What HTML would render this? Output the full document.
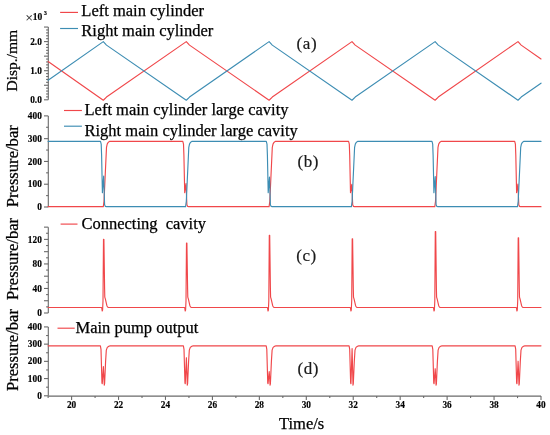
<!DOCTYPE html>
<html><head><meta charset="utf-8"><title>Plot</title><style>
html,body{margin:0;padding:0;background:#fff;}
body{width:550px;height:435px;overflow:hidden;}
svg{display:block;}
text{font-family:"Liberation Serif","Times New Roman",serif;fill:#000;}
.tl{font-size:9.3px;font-weight:bold;stroke:#000;stroke-width:0.15px;}
.lg{font-size:16.5px;fill:#000;stroke:#000;stroke-width:0.25px;}
.pl{font-size:17px;fill:#1a1a1a;letter-spacing:0.6px;stroke:#1a1a1a;stroke-width:0.2px;}
.yl{font-size:16.6px;fill:#000;stroke:#000;stroke-width:0.25px;}
.xl{font-size:16.5px;fill:#000;stroke:#000;stroke-width:0.25px;}
</style></head>
<body>
<svg width="550" height="435" viewBox="0 0 550 435">
<rect width="550" height="435" fill="#fff"/>
<line x1="48.3" y1="27.05" x2="48.3" y2="99.8" stroke="#6a6a6a" stroke-width="1.1"/>
<line x1="44" y1="99.8" x2="48.3" y2="99.8" stroke="#6a6a6a" stroke-width="1.1"/>
<line x1="44" y1="85.25" x2="48.3" y2="85.25" stroke="#6a6a6a" stroke-width="1.1"/>
<line x1="44" y1="70.7" x2="48.3" y2="70.7" stroke="#6a6a6a" stroke-width="1.1"/>
<line x1="44" y1="56.15" x2="48.3" y2="56.15" stroke="#6a6a6a" stroke-width="1.1"/>
<line x1="44" y1="41.6" x2="48.3" y2="41.6" stroke="#6a6a6a" stroke-width="1.1"/>
<line x1="44" y1="27.05" x2="48.3" y2="27.05" stroke="#6a6a6a" stroke-width="1.1"/>
<line x1="46.1" y1="96.89" x2="48.3" y2="96.89" stroke="#6a6a6a" stroke-width="1.1"/>
<line x1="46.1" y1="93.98" x2="48.3" y2="93.98" stroke="#6a6a6a" stroke-width="1.1"/>
<line x1="46.1" y1="91.07" x2="48.3" y2="91.07" stroke="#6a6a6a" stroke-width="1.1"/>
<line x1="46.1" y1="88.16" x2="48.3" y2="88.16" stroke="#6a6a6a" stroke-width="1.1"/>
<line x1="46.1" y1="82.34" x2="48.3" y2="82.34" stroke="#6a6a6a" stroke-width="1.1"/>
<line x1="46.1" y1="79.43" x2="48.3" y2="79.43" stroke="#6a6a6a" stroke-width="1.1"/>
<line x1="46.1" y1="76.52" x2="48.3" y2="76.52" stroke="#6a6a6a" stroke-width="1.1"/>
<line x1="46.1" y1="73.61" x2="48.3" y2="73.61" stroke="#6a6a6a" stroke-width="1.1"/>
<line x1="46.1" y1="67.79" x2="48.3" y2="67.79" stroke="#6a6a6a" stroke-width="1.1"/>
<line x1="46.1" y1="64.88" x2="48.3" y2="64.88" stroke="#6a6a6a" stroke-width="1.1"/>
<line x1="46.1" y1="61.97" x2="48.3" y2="61.97" stroke="#6a6a6a" stroke-width="1.1"/>
<line x1="46.1" y1="59.06" x2="48.3" y2="59.06" stroke="#6a6a6a" stroke-width="1.1"/>
<line x1="46.1" y1="53.24" x2="48.3" y2="53.24" stroke="#6a6a6a" stroke-width="1.1"/>
<line x1="46.1" y1="50.33" x2="48.3" y2="50.33" stroke="#6a6a6a" stroke-width="1.1"/>
<line x1="46.1" y1="47.42" x2="48.3" y2="47.42" stroke="#6a6a6a" stroke-width="1.1"/>
<line x1="46.1" y1="44.51" x2="48.3" y2="44.51" stroke="#6a6a6a" stroke-width="1.1"/>
<line x1="46.1" y1="38.69" x2="48.3" y2="38.69" stroke="#6a6a6a" stroke-width="1.1"/>
<line x1="46.1" y1="35.78" x2="48.3" y2="35.78" stroke="#6a6a6a" stroke-width="1.1"/>
<line x1="46.1" y1="32.87" x2="48.3" y2="32.87" stroke="#6a6a6a" stroke-width="1.1"/>
<line x1="46.1" y1="29.96" x2="48.3" y2="29.96" stroke="#6a6a6a" stroke-width="1.1"/>
<text x="41.8" y="102.9" class="tl" text-anchor="end">0.0</text>
<text x="41.8" y="73.8" class="tl" text-anchor="end">1.0</text>
<text x="41.8" y="44.7" class="tl" text-anchor="end">2.0</text>
<line x1="48.3" y1="115.88" x2="48.3" y2="207" stroke="#6a6a6a" stroke-width="1.1"/>
<line x1="44" y1="207" x2="48.3" y2="207" stroke="#6a6a6a" stroke-width="1.1"/>
<line x1="44" y1="184.22" x2="48.3" y2="184.22" stroke="#6a6a6a" stroke-width="1.1"/>
<line x1="44" y1="161.44" x2="48.3" y2="161.44" stroke="#6a6a6a" stroke-width="1.1"/>
<line x1="44" y1="138.66" x2="48.3" y2="138.66" stroke="#6a6a6a" stroke-width="1.1"/>
<line x1="44" y1="115.88" x2="48.3" y2="115.88" stroke="#6a6a6a" stroke-width="1.1"/>
<line x1="46.1" y1="195.61" x2="48.3" y2="195.61" stroke="#6a6a6a" stroke-width="1.1"/>
<line x1="46.1" y1="172.83" x2="48.3" y2="172.83" stroke="#6a6a6a" stroke-width="1.1"/>
<line x1="46.1" y1="150.05" x2="48.3" y2="150.05" stroke="#6a6a6a" stroke-width="1.1"/>
<line x1="46.1" y1="127.27" x2="48.3" y2="127.27" stroke="#6a6a6a" stroke-width="1.1"/>
<text x="41.8" y="210.1" class="tl" text-anchor="end">0</text>
<text x="41.8" y="187.32" class="tl" text-anchor="end">100</text>
<text x="41.8" y="164.54" class="tl" text-anchor="end">200</text>
<text x="41.8" y="141.76" class="tl" text-anchor="end">300</text>
<text x="41.8" y="118.98" class="tl" text-anchor="end">400</text>
<line x1="48.3" y1="227.14" x2="48.3" y2="313" stroke="#6a6a6a" stroke-width="1.1"/>
<line x1="44" y1="313" x2="48.3" y2="313" stroke="#6a6a6a" stroke-width="1.1"/>
<line x1="44" y1="300.73" x2="48.3" y2="300.73" stroke="#6a6a6a" stroke-width="1.1"/>
<line x1="44" y1="288.47" x2="48.3" y2="288.47" stroke="#6a6a6a" stroke-width="1.1"/>
<line x1="44" y1="276.2" x2="48.3" y2="276.2" stroke="#6a6a6a" stroke-width="1.1"/>
<line x1="44" y1="263.94" x2="48.3" y2="263.94" stroke="#6a6a6a" stroke-width="1.1"/>
<line x1="44" y1="251.67" x2="48.3" y2="251.67" stroke="#6a6a6a" stroke-width="1.1"/>
<line x1="44" y1="239.4" x2="48.3" y2="239.4" stroke="#6a6a6a" stroke-width="1.1"/>
<line x1="44" y1="227.14" x2="48.3" y2="227.14" stroke="#6a6a6a" stroke-width="1.1"/>
<line x1="46.1" y1="306.87" x2="48.3" y2="306.87" stroke="#6a6a6a" stroke-width="1.1"/>
<line x1="46.1" y1="294.6" x2="48.3" y2="294.6" stroke="#6a6a6a" stroke-width="1.1"/>
<line x1="46.1" y1="282.33" x2="48.3" y2="282.33" stroke="#6a6a6a" stroke-width="1.1"/>
<line x1="46.1" y1="270.07" x2="48.3" y2="270.07" stroke="#6a6a6a" stroke-width="1.1"/>
<line x1="46.1" y1="257.8" x2="48.3" y2="257.8" stroke="#6a6a6a" stroke-width="1.1"/>
<line x1="46.1" y1="245.54" x2="48.3" y2="245.54" stroke="#6a6a6a" stroke-width="1.1"/>
<line x1="46.1" y1="233.27" x2="48.3" y2="233.27" stroke="#6a6a6a" stroke-width="1.1"/>
<text x="41.8" y="316.1" class="tl" text-anchor="end">0</text>
<text x="41.8" y="291.57" class="tl" text-anchor="end">40</text>
<text x="41.8" y="267.04" class="tl" text-anchor="end">80</text>
<text x="41.8" y="242.5" class="tl" text-anchor="end">120</text>
<line x1="48.3" y1="326.92" x2="48.3" y2="395.8" stroke="#6a6a6a" stroke-width="1.1"/>
<line x1="44" y1="395.8" x2="48.3" y2="395.8" stroke="#6a6a6a" stroke-width="1.1"/>
<line x1="44" y1="378.58" x2="48.3" y2="378.58" stroke="#6a6a6a" stroke-width="1.1"/>
<line x1="44" y1="361.36" x2="48.3" y2="361.36" stroke="#6a6a6a" stroke-width="1.1"/>
<line x1="44" y1="344.14" x2="48.3" y2="344.14" stroke="#6a6a6a" stroke-width="1.1"/>
<line x1="44" y1="326.92" x2="48.3" y2="326.92" stroke="#6a6a6a" stroke-width="1.1"/>
<line x1="46.1" y1="387.19" x2="48.3" y2="387.19" stroke="#6a6a6a" stroke-width="1.1"/>
<line x1="46.1" y1="369.97" x2="48.3" y2="369.97" stroke="#6a6a6a" stroke-width="1.1"/>
<line x1="46.1" y1="352.75" x2="48.3" y2="352.75" stroke="#6a6a6a" stroke-width="1.1"/>
<line x1="46.1" y1="335.53" x2="48.3" y2="335.53" stroke="#6a6a6a" stroke-width="1.1"/>
<text x="41.8" y="398.9" class="tl" text-anchor="end">0</text>
<text x="41.8" y="381.68" class="tl" text-anchor="end">100</text>
<text x="41.8" y="364.46" class="tl" text-anchor="end">200</text>
<text x="41.8" y="347.24" class="tl" text-anchor="end">300</text>
<text x="41.8" y="330.02" class="tl" text-anchor="end">400</text>
<line x1="48.3" y1="396.1" x2="541" y2="396.1" stroke="#6a6a6a" stroke-width="1.1"/>
<line x1="48.13" y1="396.1" x2="48.13" y2="398.1" stroke="#6a6a6a" stroke-width="1.1"/>
<line x1="71.6" y1="396.1" x2="71.6" y2="399.9" stroke="#6a6a6a" stroke-width="1.1"/>
<text x="71.6" y="408" class="tl" text-anchor="middle">20</text>
<line x1="95.07" y1="396.1" x2="95.07" y2="398.1" stroke="#6a6a6a" stroke-width="1.1"/>
<line x1="118.54" y1="396.1" x2="118.54" y2="399.9" stroke="#6a6a6a" stroke-width="1.1"/>
<text x="118.54" y="408" class="tl" text-anchor="middle">22</text>
<line x1="142.01" y1="396.1" x2="142.01" y2="398.1" stroke="#6a6a6a" stroke-width="1.1"/>
<line x1="165.48" y1="396.1" x2="165.48" y2="399.9" stroke="#6a6a6a" stroke-width="1.1"/>
<text x="165.48" y="408" class="tl" text-anchor="middle">24</text>
<line x1="188.95" y1="396.1" x2="188.95" y2="398.1" stroke="#6a6a6a" stroke-width="1.1"/>
<line x1="212.42" y1="396.1" x2="212.42" y2="399.9" stroke="#6a6a6a" stroke-width="1.1"/>
<text x="212.42" y="408" class="tl" text-anchor="middle">26</text>
<line x1="235.89" y1="396.1" x2="235.89" y2="398.1" stroke="#6a6a6a" stroke-width="1.1"/>
<line x1="259.36" y1="396.1" x2="259.36" y2="399.9" stroke="#6a6a6a" stroke-width="1.1"/>
<text x="259.36" y="408" class="tl" text-anchor="middle">28</text>
<line x1="282.83" y1="396.1" x2="282.83" y2="398.1" stroke="#6a6a6a" stroke-width="1.1"/>
<line x1="306.3" y1="396.1" x2="306.3" y2="399.9" stroke="#6a6a6a" stroke-width="1.1"/>
<text x="306.3" y="408" class="tl" text-anchor="middle">30</text>
<line x1="329.77" y1="396.1" x2="329.77" y2="398.1" stroke="#6a6a6a" stroke-width="1.1"/>
<line x1="353.24" y1="396.1" x2="353.24" y2="399.9" stroke="#6a6a6a" stroke-width="1.1"/>
<text x="353.24" y="408" class="tl" text-anchor="middle">32</text>
<line x1="376.71" y1="396.1" x2="376.71" y2="398.1" stroke="#6a6a6a" stroke-width="1.1"/>
<line x1="400.18" y1="396.1" x2="400.18" y2="399.9" stroke="#6a6a6a" stroke-width="1.1"/>
<text x="400.18" y="408" class="tl" text-anchor="middle">34</text>
<line x1="423.65" y1="396.1" x2="423.65" y2="398.1" stroke="#6a6a6a" stroke-width="1.1"/>
<line x1="447.12" y1="396.1" x2="447.12" y2="399.9" stroke="#6a6a6a" stroke-width="1.1"/>
<text x="447.12" y="408" class="tl" text-anchor="middle">36</text>
<line x1="470.59" y1="396.1" x2="470.59" y2="398.1" stroke="#6a6a6a" stroke-width="1.1"/>
<line x1="494.06" y1="396.1" x2="494.06" y2="399.9" stroke="#6a6a6a" stroke-width="1.1"/>
<text x="494.06" y="408" class="tl" text-anchor="middle">38</text>
<line x1="517.53" y1="396.1" x2="517.53" y2="398.1" stroke="#6a6a6a" stroke-width="1.1"/>
<line x1="541" y1="396.1" x2="541" y2="399.9" stroke="#6a6a6a" stroke-width="1.1"/>
<text x="541" y="408" class="tl" text-anchor="middle">40</text>
<text x="25.5" y="21.8" style="font-size:13px;stroke:#222;stroke-width:0.1px;fill:#222">×</text>
<text x="32.7" y="19.5" class="tl" style="font-size:9.5px">10</text>
<text x="43.7" y="14.6" class="tl" style="font-size:6.3px">3</text>
<g fill="none" stroke-width="1.15" stroke-linejoin="round" stroke-linecap="round">
<path d="M48.13,61.55 L103.3,100.24 L106.5,97.04 L186.3,41.6 L189.5,45.1 L269.1,100.24 L272.3,97.04 L352,41.6 L355.2,45.1 L435.1,100.24 L438.3,97.04 L518,41.6 L521.2,45.1 L541,58.96" stroke="#f0474a"/>
<path d="M48.13,80.29 L103.3,41.6 L106.5,45.1 L186.3,100.24 L189.5,97.04 L269.1,41.6 L272.3,45.1 L352,100.24 L355.2,97.04 L435.1,41.6 L438.3,45.1 L518,100.24 L521.2,97.04 L541,83.18" stroke="#3d8db3"/>
<path d="M48.13,206.66 L103.3,206.66 L104,201.31 L106.5,147.32 L107.2,144.13 L108.1,142.53 L109.5,141.39 L182.8,141.39 L183.5,144.13 L183.9,155.06 L184.7,192.65 L186,183.54 L186.9,204.72 L187.7,206.43 L188.7,206.66 L269.1,206.66 L269.8,201.31 L272.3,147.32 L273,144.13 L273.9,142.53 L275.3,141.39 L348.6,141.39 L349.3,144.13 L349.7,155.06 L350.5,192.65 L351.8,184.22 L352.7,204.72 L353.5,206.43 L354.5,206.66 L434.8,206.66 L435.5,201.31 L438,147.32 L438.7,144.13 L439.6,142.53 L441,141.39 L514.7,141.39 L515.4,144.13 L515.8,155.06 L516.6,192.65 L517.9,183.99 L518.8,204.72 L519.6,206.43 L520.6,206.66 L541,206.66" stroke="#f0474a"/>
<path d="M48.13,141.39 L100.5,141.39 L101.2,144.13 L101.6,155.06 L102.4,192.65 L103.7,176.02 L104.6,204.72 L105.4,206.43 L106.4,206.66 L185.6,206.66 L186.3,201.31 L188.8,147.32 L189.5,144.13 L190.4,142.53 L191.8,141.39 L266.3,141.39 L267,144.13 L267.4,155.06 L268.2,192.65 L269.5,177.16 L270.4,204.72 L271.2,206.43 L272.2,206.66 L351.4,206.66 L352.1,201.31 L354.6,147.32 L355.3,144.13 L356.2,142.53 L357.6,141.39 L432,141.39 L432.7,144.13 L433.1,155.06 L433.9,192.65 L435.2,176.47 L436.1,204.72 L436.9,206.43 L437.9,206.66 L517.5,206.66 L518.2,201.31 L520.7,147.32 L521.4,144.13 L522.3,142.53 L523.7,141.39 L541,141.39" stroke="#3d8db3"/>
<path d="M48.13,307.48 L101.3,307.48 L101.8,308.09 L102.2,310.98 L102.6,309.93 L103,300.73 L103.5,239.3 L103.9,239.3 L104.6,288.47 L104.8,297.05 L105.4,299.2 L106.2,302.57 L106.9,305.64 L107.5,306.87 L108.3,307.48 L184.3,307.48 L184.8,308.09 L185.2,310.98 L185.6,309.93 L186,300.73 L186.5,243 L186.9,243 L187.6,288.47 L187.8,297.05 L188.4,299.2 L189.2,302.57 L189.9,305.64 L190.5,306.87 L191.3,307.48 L267.1,307.48 L267.6,308.09 L268,310.98 L268.4,309.93 L268.8,300.73 L269.3,235.3 L269.7,235.3 L270.4,288.47 L270.6,297.05 L271.2,299.2 L272,302.57 L272.7,305.64 L273.3,306.87 L274.1,307.48 L350,307.48 L350.5,308.09 L350.9,310.98 L351.3,309.93 L351.7,300.73 L352.2,238.8 L352.6,238.8 L353.3,288.47 L353.5,297.05 L354.1,299.2 L354.9,302.57 L355.6,305.64 L356.2,306.87 L357,307.48 L433.1,307.48 L433.6,308.09 L434,310.98 L434.4,309.93 L434.8,300.73 L435.3,231.6 L435.7,231.6 L436.4,288.47 L436.6,297.05 L437.2,299.2 L438,302.57 L438.7,305.64 L439.3,306.87 L440.1,307.48 L516,307.48 L516.5,308.09 L516.9,310.98 L517.3,309.93 L517.7,300.73 L518.2,237.8 L518.6,237.8 L519.3,288.47 L519.5,297.05 L520.1,299.2 L520.9,302.57 L521.6,305.64 L522.2,306.87 L523,307.48 L541,307.48" stroke="#f0474a"/>
<path d="M48.13,345.86 L100.4,345.86 L101,349.31 L101.95,383.06 L102.25,383.75 L103.4,366.6 L104.3,385.12 L104.6,383.75 L105.6,361.36 L106.3,350.17 L107.3,347.41 L108.8,346.21 L110.1,345.86 L183.4,345.86 L184,349.31 L184.95,383.06 L185.25,383.75 L186.4,357.7 L187.3,385.12 L187.6,383.75 L188.6,361.36 L189.3,350.17 L190.3,347.41 L191.8,346.21 L193.1,345.86 L266.2,345.86 L266.8,349.31 L267.75,383.06 L268.05,383.75 L269.2,371.5 L270.1,385.12 L270.4,383.75 L271.4,361.36 L272.1,350.17 L273.1,347.41 L274.6,346.21 L275.9,345.86 L349.1,345.86 L349.7,349.31 L350.65,383.06 L350.95,383.75 L352.1,348.5 L353,385.12 L353.3,383.75 L354.3,361.36 L355,350.17 L356,347.41 L357.5,346.21 L358.8,345.86 L432.2,345.86 L432.8,349.31 L433.75,383.06 L434.05,383.75 L435.2,368.7 L436.1,385.12 L436.4,383.75 L437.4,361.36 L438.1,350.17 L439.1,347.41 L440.6,346.21 L441.9,345.86 L515.1,345.86 L515.7,349.31 L516.65,383.06 L516.95,383.75 L518.1,361.2 L519,385.12 L519.3,383.75 L520.3,361.36 L521,350.17 L522,347.41 L523.5,346.21 L524.8,345.86 L541,345.86" stroke="#f0474a"/>
</g>
<line x1="60.1" y1="12.4" x2="78" y2="12.4" stroke="#f0474a" stroke-width="1.15"/>
<text x="81.3" y="16.3" class="lg">Left main cylinder</text>
<line x1="60.1" y1="28.5" x2="78" y2="28.5" stroke="#3d8db3" stroke-width="1.15"/>
<text x="81.3" y="36.4" class="lg">Right main cylinder</text>
<line x1="64" y1="110.5" x2="81.9" y2="110.5" stroke="#f0474a" stroke-width="1.15"/>
<text x="84.5" y="115.3" class="lg">Left main cylinder large cavity</text>
<line x1="64" y1="126.2" x2="81.9" y2="126.2" stroke="#3d8db3" stroke-width="1.15"/>
<text x="84.5" y="135.6" class="lg">Right main cylinder large cavity</text>
<line x1="60.6" y1="224.1" x2="77.5" y2="224.1" stroke="#f0474a" stroke-width="1.15"/>
<text x="81.4" y="228.8" class="lg">Connecting&#160; cavity</text>
<line x1="57.5" y1="328.2" x2="74.7" y2="328.2" stroke="#f0474a" stroke-width="1.15"/>
<text x="75.5" y="333.4" class="lg">Main pump output</text>
<text x="296.5" y="48.8" class="pl">(a)</text>
<text x="297.4" y="167.4" class="pl">(b)</text>
<text x="296.2" y="260.5" class="pl">(c)</text>
<text x="297.4" y="373.8" class="pl">(d)</text>
<text transform="translate(17.2,60.7) rotate(-90)" class="yl" text-anchor="middle" style="font-size:15.5px">Disp./mm</text>
<text transform="translate(17.8,166.2) rotate(-90)" class="yl" text-anchor="middle" style="">Pressure/bar</text>
<text transform="translate(17.8,258.9) rotate(-90)" class="yl" text-anchor="middle" style="">Pressure/bar</text>
<text transform="translate(17.8,350) rotate(-90)" class="yl" text-anchor="middle" style="">Pressure/bar</text>
<text x="279" y="429" class="xl">Time/s</text>
</svg>
</body></html>
